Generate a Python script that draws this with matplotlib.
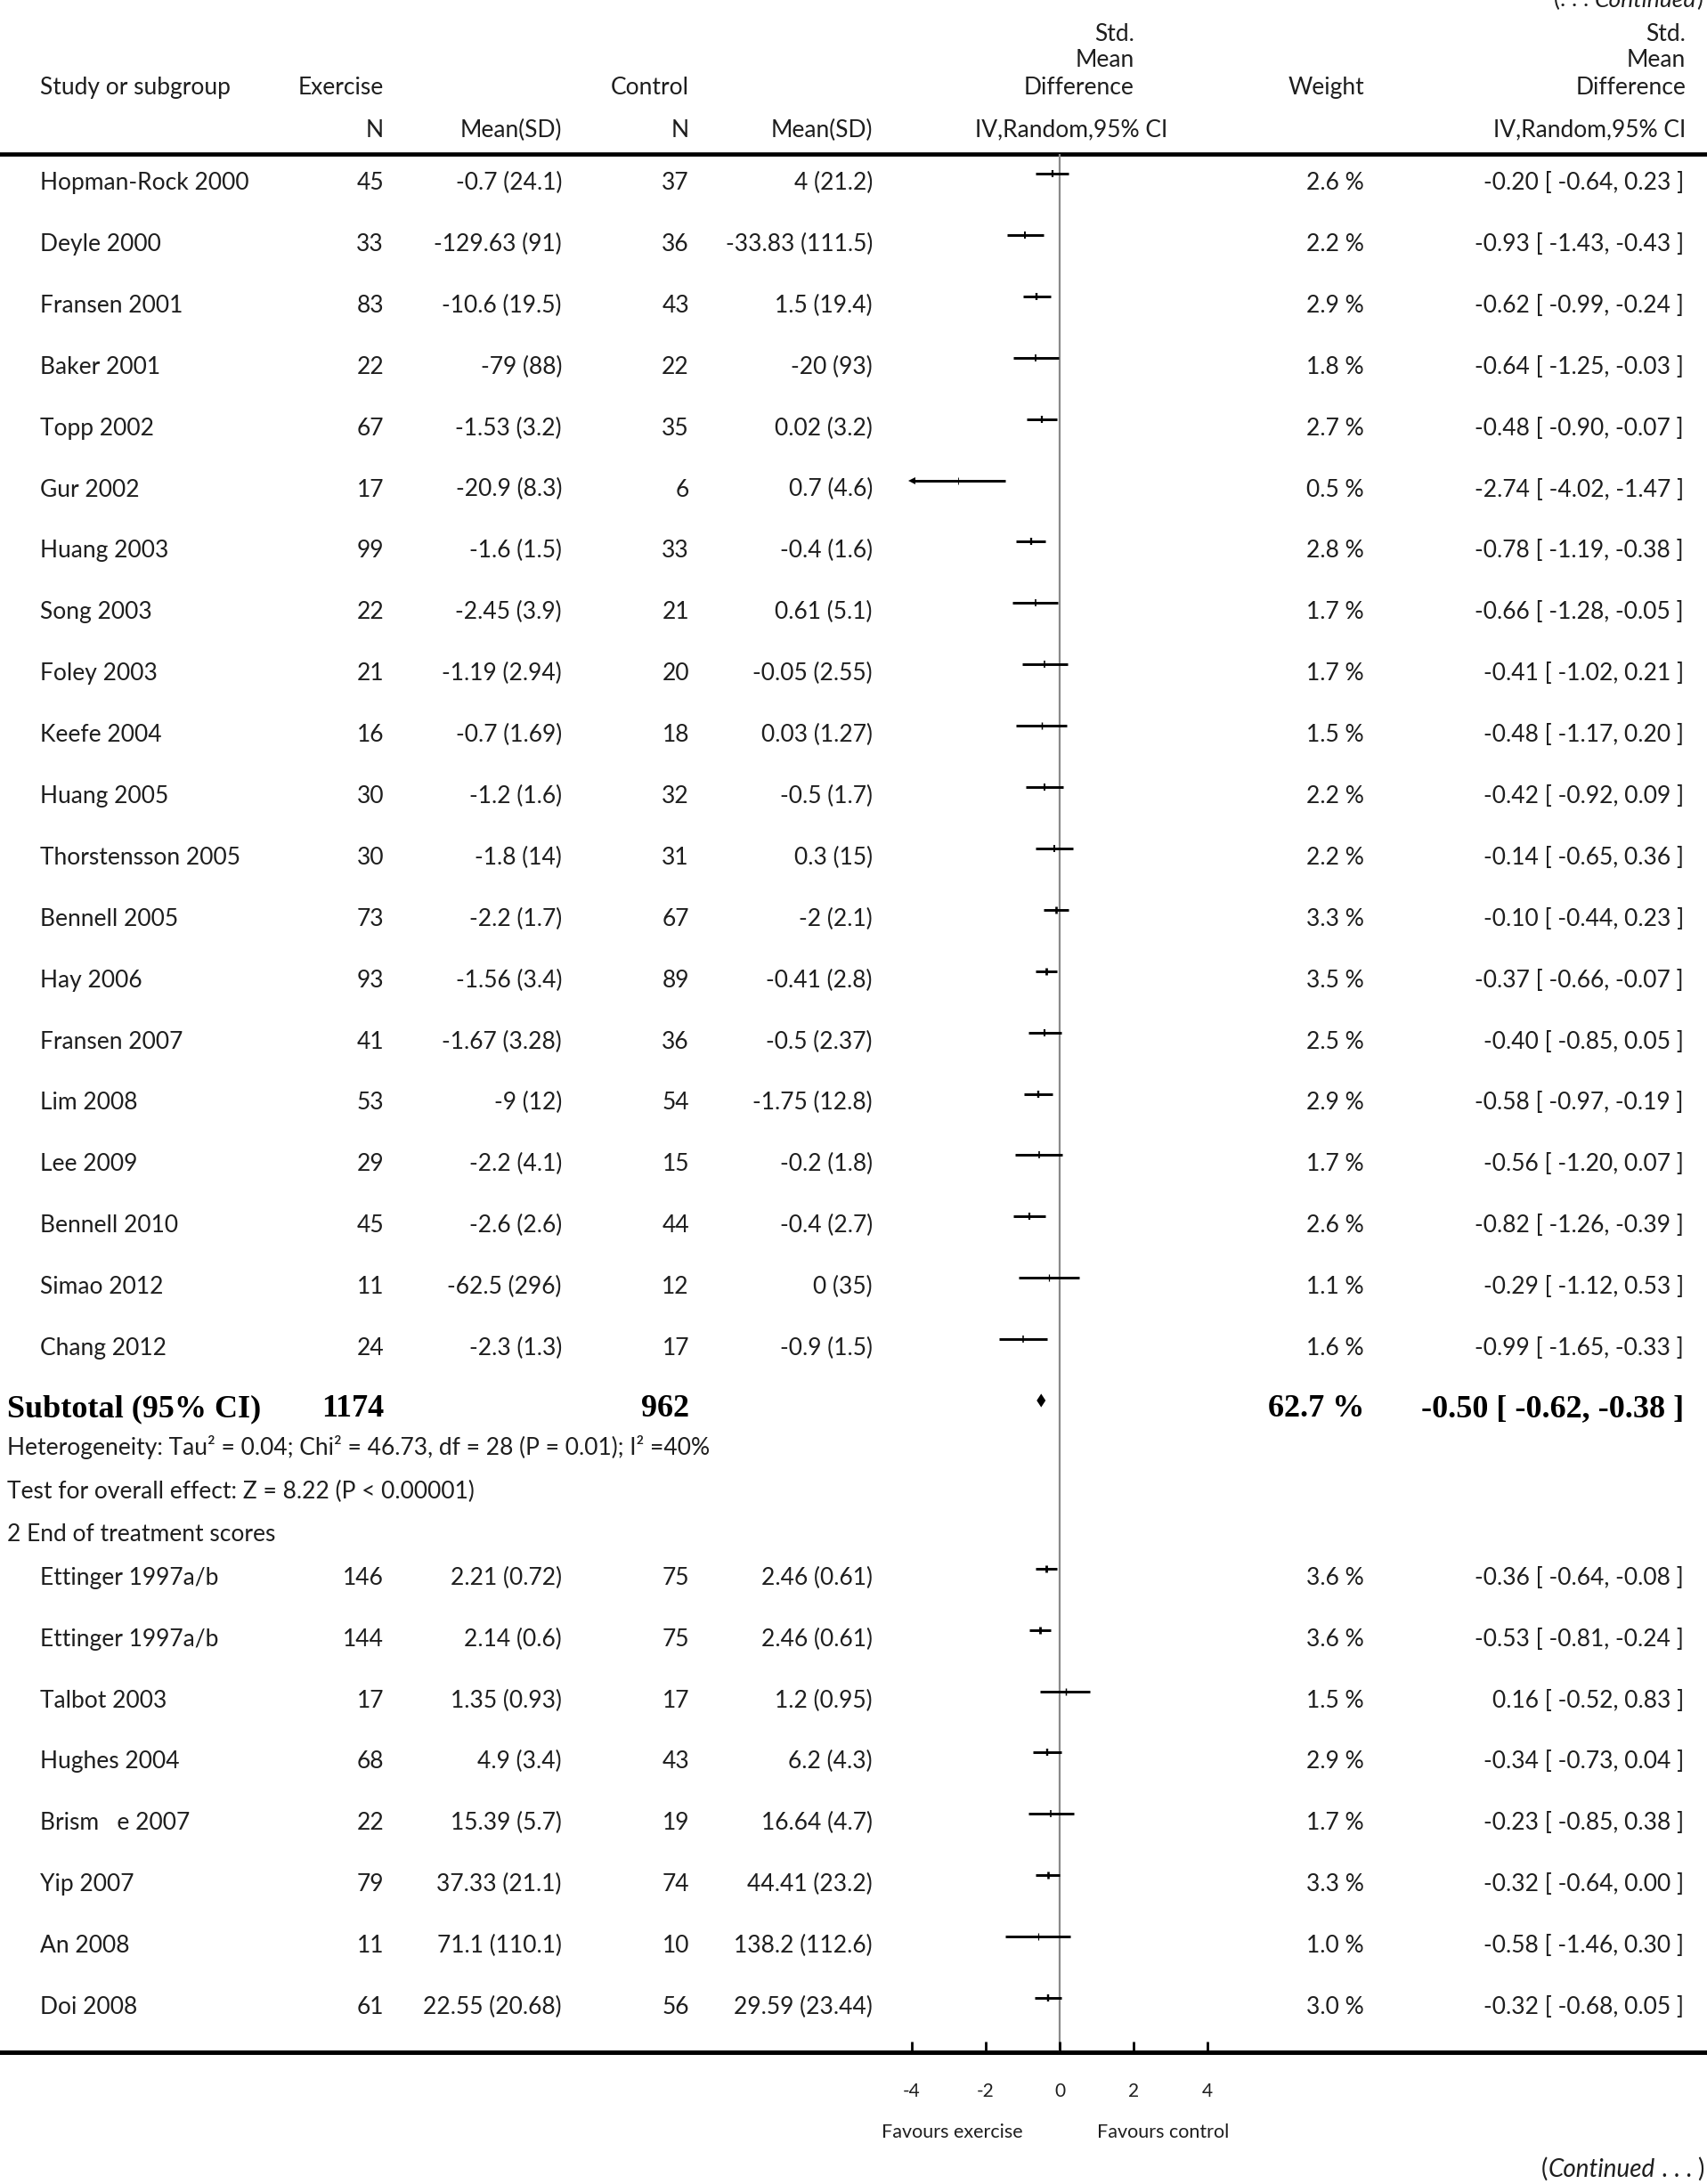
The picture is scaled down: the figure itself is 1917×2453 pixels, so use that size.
import matplotlib
matplotlib.use("Agg")
import matplotlib.pyplot as plt

# ---------------- data ----------------
studies_1 = ["Hopman-Rock 2000", "Deyle 2000", "Fransen 2001", "Baker 2001", "Topp 2002",
             "Gur 2002", "Huang 2003", "Song 2003", "Foley 2003", "Keefe 2004",
             "Huang 2005", "Thorstensson 2005", "Bennell 2005", "Hay 2006", "Fransen 2007",
             "Lim 2008", "Lee 2009", "Bennell 2010", "Simao 2012", "Chang 2012"]
ex_n_1 = [45, 33, 83, 22, 67, 17, 99, 22, 21, 16, 30, 30, 73, 93, 41, 53, 29, 45, 11, 24]
ex_msd_1 = ["-0.7 (24.1)", "-129.63 (91)", "-10.6 (19.5)", "-79 (88)", "-1.53 (3.2)",
            "-20.9 (8.3)", "-1.6 (1.5)", "-2.45 (3.9)", "-1.19 (2.94)", "-0.7 (1.69)",
            "-1.2 (1.6)", "-1.8 (14)", "-2.2 (1.7)", "-1.56 (3.4)", "-1.67 (3.28)",
            "-9 (12)", "-2.2 (4.1)", "-2.6 (2.6)", "-62.5 (296)", "-2.3 (1.3)"]
ct_n_1 = [37, 36, 43, 22, 35, 6, 33, 21, 20, 18, 32, 31, 67, 89, 36, 54, 15, 44, 12, 17]
ct_msd_1 = ["4 (21.2)", "-33.83 (111.5)", "1.5 (19.4)", "-20 (93)", "0.02 (3.2)",
            "0.7 (4.6)", "-0.4 (1.6)", "0.61 (5.1)", "-0.05 (2.55)", "0.03 (1.27)",
            "-0.5 (1.7)", "0.3 (15)", "-2 (2.1)", "-0.41 (2.8)", "-0.5 (2.37)",
            "-1.75 (12.8)", "-0.2 (1.8)", "-0.4 (2.7)", "0 (35)", "-0.9 (1.5)"]
weight_1 = [2.6, 2.2, 2.9, 1.8, 2.7, 0.5, 2.8, 1.7, 1.7, 1.5,
            2.2, 2.2, 3.3, 3.5, 2.5, 2.9, 1.7, 2.6, 1.1, 1.6]
smd_1 = [-0.20, -0.93, -0.62, -0.64, -0.48, -2.74, -0.78, -0.66, -0.41, -0.48,
         -0.42, -0.14, -0.10, -0.37, -0.40, -0.58, -0.56, -0.82, -0.29, -0.99]
lo_1 = [-0.64, -1.43, -0.99, -1.25, -0.90, -4.02, -1.19, -1.28, -1.02, -1.17,
        -0.92, -0.65, -0.44, -0.66, -0.85, -0.97, -1.20, -1.26, -1.12, -1.65]
hi_1 = [0.23, -0.43, -0.24, -0.03, -0.07, -1.47, -0.38, -0.05, 0.21, 0.20,
        0.09, 0.36, 0.23, -0.07, 0.05, -0.19, 0.07, -0.39, 0.53, -0.33]

subtotal_n = [1174, 962]
subtotal_weight = 62.7
subtotal_smd = [-0.50, -0.62, -0.38]
heterogeneity = "Heterogeneity: Tau\u00b2 = 0.04; Chi\u00b2 = 46.73, df = 28 (P = 0.01); I\u00b2 =40%"
overall = "Test for overall effect: Z = 8.22 (P < 0.00001)"
subgroup_2 = "2 End of treatment scores"

studies_2 = ["Ettinger 1997a/b", "Ettinger 1997a/b", "Talbot 2003", "Hughes 2004",
             "Brism   e 2007", "Yip 2007", "An 2008", "Doi 2008"]
ex_n_2 = [146, 144, 17, 68, 22, 79, 11, 61]
ex_msd_2 = ["2.21 (0.72)", "2.14 (0.6)", "1.35 (0.93)", "4.9 (3.4)", "15.39 (5.7)",
            "37.33 (21.1)", "71.1 (110.1)", "22.55 (20.68)"]
ct_n_2 = [75, 75, 17, 43, 19, 74, 10, 56]
ct_msd_2 = ["2.46 (0.61)", "2.46 (0.61)", "1.2 (0.95)", "6.2 (4.3)", "16.64 (4.7)",
            "44.41 (23.2)", "138.2 (112.6)", "29.59 (23.44)"]
weight_2 = [3.6, 3.6, 1.5, 2.9, 1.7, 3.3, 1.0, 3.0]
smd_2 = [-0.36, -0.53, 0.16, -0.34, -0.23, -0.32, -0.58, -0.32]
lo_2 = [-0.64, -0.81, -0.52, -0.73, -0.85, -0.64, -1.46, -0.68]
hi_2 = [-0.08, -0.24, 0.83, 0.04, 0.38, 0.00, 0.30, 0.05]

x_ticks = [-4, -2, 0, 2, 4]
favours = ["Favours exercise", "Favours control"]

# ---------------- layout ----------------
W, H, DPI = 1917, 2453, 100
X0, UNIT = 1190, 41.5          # pixel of zero line, pixels per SMD unit
BASE0, ROW = 213, 68.9         # baseline of first row, row pitch (px)
CI_OFF = 18                    # CI line sits this many px above text baseline
LIMIT = 4                      # plot clipped at +/-4

SANS = "Lato"
SERIF = "Liberation Serif"
FS = 19
INK = "#1e1e1e"

fig = plt.figure(figsize=(W / DPI, H / DPI), dpi=DPI)
fig.patch.set_facecolor("white")

tab = fig.add_axes([0, 0, 1, 1])
tab.set_xlim(0, W)
tab.set_ylim(H, 0)
tab.axis("off")

ax = fig.add_axes([0, 0, 1, 1])
ax.set_xlim(-X0 / UNIT, (W - X0) / UNIT)
ax.set_ylim((H - BASE0 + CI_OFF) / ROW, -(BASE0 - CI_OFF) / ROW)
ax.axis("off")
ax.patch.set_alpha(0)


def base(r):
    return BASE0 + ROW * r


def txt(x, r, s, ha="right", **kw):
    opts = dict(family=SANS, fontsize=FS, weight="normal", color=INK, va="baseline", ha=ha)
    opts.update(kw)
    return tab.text(x, base(r), s, **opts)


# column right edges (px)
C_NAME, C_EN, C_EM, C_CN, C_CM, C_W, C_CI = 45, 431, 631, 774, 980, 1532, 1891

# header
hdr_y = [-2.43, -2.0, -1.56]
txt(C_NAME, hdr_y[2], "Study or subgroup", ha="left")
txt(C_EN, hdr_y[2], "Exercise")
txt(C_CN, hdr_y[2], "Control")
for i, s in enumerate(["Std.", "Mean", "Difference"]):
    txt(1274, hdr_y[i], s)
    txt(1893, hdr_y[i], s)
txt(C_W, hdr_y[2], "Weight")
for x, s in [(C_EN, "N"), (C_EM, "Mean(SD)"), (C_CN, "N"), (C_CM, "Mean(SD)"),
             (1311, "IV,Random,95% CI"), (1893, "IV,Random,95% CI")]:
    txt(x, -0.86, s)

tab.axhline(173, color="black", lw=3.4)
tab.axhline(2305, color="black", lw=3.6)

# top continuation mark (partly above the page edge, as in the source)
t = tab.text(1912, 12, ")", family=SANS, fontsize=FS, color=INK, ha="right", va="bottom")
t = tab.annotate("Continued", xy=(0, 0), xycoords=t, family=SANS, fontsize=FS, style="italic",
                 color=INK, ha="right", va="bottom")
tab.annotate("(. . . ", xy=(0, 0), xycoords=t, family=SANS, fontsize=FS,
             color=INK, ha="right", va="bottom")


def draw_rows(r0, names, en, em, cn, cm, w, smd, lo, hi):
    for i in range(len(names)):
        r = r0 + i
        txt(C_NAME, r, names[i], ha="left")
        txt(C_EN, r, str(en[i]))
        txt(C_EM, r, em[i])
        txt(C_CN, r, str(cn[i]))
        txt(C_CM, r, cm[i])
        txt(C_W, r, "%.1f %%" % w[i])
        txt(C_CI, r, "%.2f [ %.2f, %.2f ]" % (smd[i], lo[i], hi[i]))
        left = max(lo[i], -LIMIT)
        right = min(hi[i], LIMIT)
        ax.plot([left, right], [r, r], color="black", lw=2.1, solid_capstyle="butt")
        if lo[i] < -LIMIT:
            ax.plot([-LIMIT], [r], marker="<", ms=6, color="black", mew=0)
        ax.plot([smd[i]], [r], marker="|", ms=6, color="black", mew=0.4 + 0.45 * w[i])


draw_rows(0, studies_1, ex_n_1, ex_msd_1, ct_n_1, ct_msd_1, weight_1, smd_1, lo_1, hi_1)

# subtotal
r_sub = 20.0
bold = dict(family=SERIF, fontsize=26, weight="bold", color="black")
txt(8, r_sub, "Subtotal (95% CI)", ha="left", **bold)
txt(C_EN, r_sub, str(subtotal_n[0]), **bold)
txt(C_CN, r_sub, str(subtotal_n[1]), **bold)
txt(C_W, r_sub, "%.1f %%" % subtotal_weight, **bold)
txt(C_CI, r_sub, "%.2f [ %.2f, %.2f ]" % tuple(subtotal_smd), **bold)
m, l, h = subtotal_smd
ax.fill([l, m, h, m], [r_sub, r_sub - 0.11, r_sub, r_sub + 0.11], color="black", lw=0)

txt(8, 20.62, heterogeneity, ha="left", fontsize=19)
txt(8, 21.34, overall, ha="left", fontsize=19)
txt(8, 22.03, subgroup_2, ha="left", fontsize=19)

draw_rows(22.74, studies_2, ex_n_2, ex_msd_2, ct_n_2, ct_msd_2, weight_2, smd_2, lo_2, hi_2)

# zero line and axis
r_top = (173 - BASE0 + CI_OFF) / ROW
r_axis = (2305 - BASE0 + CI_OFF) / ROW
ax.vlines(0, r_top, r_axis, color="#8a8a8a", lw=1.6, zorder=0)
ax.vlines(x_ticks, r_axis - 0.17, r_axis, color="black", lw=2.0)
for tk in x_ticks:
    ax.text(tk, r_axis + 0.72, str(tk), family=SANS, fontsize=15, color=INK,
            ha="center", va="baseline")
ax.text(-1, r_axis + 1.40, favours[0], family=SANS, fontsize=15.5, color=INK,
        ha="right", va="baseline")
ax.text(1, r_axis + 1.40, favours[1], family=SANS, fontsize=15.5, color=INK,
        ha="left", va="baseline")

# bottom continuation mark
t = tab.text(1914, 2450, " . . . )", family=SANS, fontsize=20, color=INK,
             ha="right", va="bottom")
t = tab.annotate("Continued", xy=(0, 0), xycoords=t, family=SANS, fontsize=20, style="italic",
                 color=INK, ha="right", va="bottom")
tab.annotate("(", xy=(0, 0), xycoords=t, family=SANS, fontsize=20, color=INK,
             ha="right", va="bottom")

fig.savefig("out.png", dpi=DPI)
